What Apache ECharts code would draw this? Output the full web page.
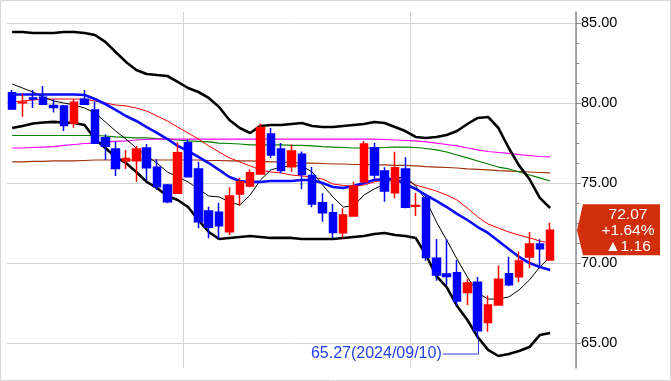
<!DOCTYPE html>
<html><head><meta charset="utf-8">
<script src="https://cdn.jsdelivr.net/npm/echarts@6/dist/echarts.min.js"></script>
<style>html,body{margin:0;padding:0;background:#fff}#c{width:671px;height:381px}</style>
</head><body><div id="c"></div>
<script>
const categories = ['2024/07/09','2024/07/10','2024/07/11','2024/07/12','2024/07/15','2024/07/16','2024/07/17','2024/07/18','2024/07/19','2024/07/22','2024/07/23','2024/07/24','2024/07/25','2024/07/26','2024/07/29','2024/07/30','2024/07/31',
'2024/08/01','2024/08/02','2024/08/05','2024/08/06','2024/08/07','2024/08/08','2024/08/09','2024/08/12','2024/08/13','2024/08/14','2024/08/15','2024/08/16','2024/08/19','2024/08/20','2024/08/21','2024/08/22','2024/08/23','2024/08/26','2024/08/27','2024/08/28','2024/08/29','2024/08/30',
'2024/09/02','2024/09/03','2024/09/04','2024/09/05','2024/09/06','2024/09/09','2024/09/10','2024/09/11','2024/09/12','2024/09/13','2024/09/16','2024/09/17','2024/09/18','2024/09/19'];
const opens  = [80.67,80.04,80.34,80.38,79.87,79.84,78.75,80.25,79.59,77.85,77.15,76.40,76.42,77.21,76.00,74.90,74.38,77.54,75.90,73.27,73.19,71.98,74.34,74.84,75.59,78.09,77.15,76.04,76.82,75.49,73.79,73.17,71.92,72.96,75.10,77.23,75.77,74.42,75.90,73.57,74.09,70.32,69.34,69.42,68.18,68.82,66.30,67.40,69.35,69.17,70.40,71.21,70.21];
const closes = [79.65,80.07,80.27,79.94,79.74,78.62,80.07,79.94,77.50,77.32,75.93,76.55,77.15,75.98,74.79,73.85,76.92,75.42,72.60,72.25,72.35,74.21,75.10,75.67,78.49,76.78,75.80,77.02,75.55,73.71,73.17,71.93,73.02,74.84,77.46,75.52,74.52,75.98,73.50,73.62,70.37,69.27,69.18,67.65,68.78,65.79,67.40,69.00,68.67,70.15,71.21,70.91,72.07];
const lows   = [79.58,79.17,79.71,79.93,79.43,78.27,78.48,79.93,77.49,76.46,75.46,75.90,75.10,75.21,74.59,73.75,74.37,75.40,72.19,71.57,71.57,71.77,73.59,74.75,75.55,76.59,75.63,75.73,74.63,73.50,72.60,71.57,71.63,72.93,75.00,75.21,73.85,74.07,73.44,72.96,70.17,68.92,68.65,67.37,67.40,65.27,65.73,67.38,68.57,68.84,69.71,69.69,70.18];
const highs  = [80.84,80.59,80.84,81.09,80.25,79.90,80.25,80.84,80.12,78.05,77.65,77.09,77.34,77.46,76.50,74.96,77.57,77.75,76.35,73.54,73.79,74.75,75.35,75.88,78.74,78.46,77.52,77.43,76.99,76.02,74.38,73.71,73.44,75.10,77.65,77.54,76.00,76.98,76.63,74.40,74.27,71.52,71.52,70.21,69.02,69.15,67.99,69.87,70.42,70.74,71.96,71.50,72.54];
const bandUpper = [84.46,84.46,84.40,84.40,84.40,84.46,84.46,84.40,84.27,83.84,83.21,82.59,82.09,81.84,81.77,81.71,81.34,80.96,80.71,80.34,79.77,78.96,78.46,78.15,78.59,78.65,78.65,78.71,78.77,78.59,78.52,78.52,78.59,78.65,78.71,78.84,78.77,78.52,78.27,77.90,77.84,77.90,78.02,78.27,78.71,79.09,79.15,78.46,77.21,76.11,75.27,74.09,73.46];
const bandLower = [78.46,78.59,78.74,78.80,78.84,78.80,78.77,78.65,77.77,77.21,76.65,76.27,75.71,75.09,74.71,74.21,73.96,73.52,72.71,71.96,71.52,71.59,71.65,71.71,71.65,71.59,71.59,71.59,71.52,71.52,71.52,71.52,71.59,71.65,71.71,71.84,71.90,71.77,71.71,71.59,70.52,69.21,68.52,67.34,66.46,65.40,64.59,64.21,64.34,64.52,64.77,65.52,65.65];
const maBlack = [81.21,80.96,80.71,80.40,80.15,80.02,79.90,79.71,79.40,78.84,78.27,77.77,77.21,76.71,76.27,75.71,75.40,75.09,74.65,74.21,74.15,73.84,73.65,74.27,75.21,75.84,76.02,76.09,76.09,75.71,74.90,74.15,73.52,73.59,74.27,74.65,74.96,75.34,75.40,74.84,73.96,72.59,71.46,70.27,69.15,68.15,67.77,67.77,67.90,68.34,68.96,69.77,70.40];
const maBlue = [80.55,80.55,80.55,80.55,80.55,80.55,80.55,80.52,80.27,79.96,79.59,79.21,78.90,78.52,78.15,77.77,77.34,77.02,76.65,76.27,75.84,75.40,75.15,75.09,75.09,75.15,75.15,75.15,75.21,75.21,75.02,74.77,74.71,74.84,75.02,75.21,75.27,75.27,74.96,74.65,74.27,73.90,73.52,73.09,72.71,72.27,71.90,71.40,70.90,70.40,70.02,69.77,69.59];
const maRed = [80.09,80.15,80.21,80.27,80.27,80.27,80.27,80.27,80.15,80.02,79.90,79.84,79.71,79.52,79.21,78.90,78.52,78.15,77.77,77.34,76.96,76.59,76.34,76.09,75.84,75.71,75.65,75.52,75.46,75.40,75.27,74.96,74.87,74.81,74.90,75.09,75.21,75.34,75.21,74.90,74.71,74.52,74.27,73.96,73.46,72.90,72.46,72.21,71.96,71.77,71.59,71.40,71.27];
const maMagenta = [77.21,77.21,77.24,77.27,77.30,77.37,77.43,77.49,77.52,77.59,77.62,77.65,77.71,77.74,77.77,77.77,77.77,77.77,77.77,77.77,77.77,77.77,77.77,77.77,77.77,77.77,77.77,77.77,77.77,77.77,77.77,77.77,77.77,77.77,77.77,77.77,77.74,77.71,77.68,77.65,77.59,77.52,77.43,77.34,77.21,77.09,76.99,76.93,76.87,76.80,76.74,76.68,76.65];
const maGreen = [77.99,77.99,77.99,77.99,77.99,77.99,77.99,77.99,77.99,77.96,77.90,77.87,77.84,77.84,77.80,77.77,77.71,77.65,77.62,77.59,77.52,77.49,77.46,77.40,77.40,77.40,77.40,77.37,77.37,77.34,77.30,77.27,77.24,77.21,77.21,77.21,77.24,77.27,77.27,77.24,77.18,77.09,76.96,76.77,76.59,76.40,76.21,76.02,75.90,75.71,75.52,75.34,75.15];
const maBrown = [76.34,76.34,76.37,76.37,76.40,76.40,76.40,76.43,76.46,76.46,76.46,76.46,76.46,76.46,76.46,76.46,76.46,76.46,76.46,76.43,76.43,76.40,76.40,76.40,76.37,76.34,76.34,76.30,76.27,76.27,76.24,76.21,76.21,76.18,76.18,76.15,76.15,76.12,76.12,76.09,76.05,76.02,75.99,75.96,75.90,75.87,75.84,75.80,75.77,75.74,75.71,75.68,75.65];
const majorTicks = [65, 70, 75, 80, 85];
const minorTicks = [66.25, 67.5, 68.75, 71.25, 72.5, 73.75, 76.25, 77.5, 78.75, 81.25, 82.5, 83.75];
const emptySlots = ['', ''];

const chart = echarts.init(document.getElementById('c'), null, {renderer: 'canvas'});
const xCats = categories.concat(emptySlots);
const candleData = categories.map((d, i) => [opens[i], closes[i], lows[i], highs[i]]);
const FONT = 'Liberation Sans';
const GRID = {left: 7, right: 95, top: 12, bottom: 13};
function lineSeries(data, color, width, z) {
  return {type: 'line', data: data, symbol: 'none', smooth: false, z: z || 2, silent: true,
    lineStyle: {color: color, width: width}, emphasis: {disabled: true}};
}
const month = s => s ? s.slice(0, 7) : '';
chart.setOption({
  animation: false,
  backgroundColor: '#ffffff',
  grid: Object.assign({outerBoundsMode: 'none', containLabel: false}, GRID),
  xAxis: {type: 'category', data: xCats, boundaryGap: true,
    axisLine: {show: false}, axisTick: {show: false}, axisLabel: {show: false},
    splitLine: {show: true, lineStyle: {color: '#d4d4d4', width: 1},
      interval: (idx) => idx > 0 && idx < categories.length && month(categories[idx]) !== month(categories[idx - 1])}},
  yAxis: {type: 'value', position: 'right', min: 63.46, max: 85.71, scale: true,
    axisLine: {show: true, lineStyle: {color: '#8c8c8c', width: 1.5}},
    axisTick: {show: true, customValues: majorTicks, length: 5, lineStyle: {color: '#8c8c8c', width: 1}},
    axisLabel: {show: true, customValues: majorTicks, margin: 5, color: '#000', fontFamily: FONT, fontSize: 14.5,
      formatter: v => Number(v).toFixed(2)},
    splitLine: {show: true, lineStyle: {color: '#d4d4d4', width: 1}}},
  series: [
    lineSeries(maBrown, '#a0300a', 1.2),
    lineSeries(maGreen, '#008000', 1.2),
    lineSeries(maMagenta, '#ff00ff', 1.2),
    lineSeries(maRed, '#ff0000', 1),
    lineSeries(maBlack, '#000000', 1),
    lineSeries(maBlue, '#0a0aff', 2.6),
    lineSeries(bandUpper, '#000000', 2.6),
    lineSeries(bandLower, '#000000', 2.6),
    {type: 'candlestick', data: candleData, barWidth: 8, z: 5, silent: true,
      itemStyle: {color: '#ff0000', color0: '#0000ff', borderColor: '#ff0000', borderColor0: '#0000ff', borderWidth: 1.5}}
  ]
});

// annotations
const last = closes.length - 1;
const lastClose = closes[last];
const change = lastClose - closes[last - 1];
const pct = change / closes[last - 1] * 100;
const ax = 671 - GRID.right;
const yc = chart.convertToPixel({yAxisIndex: 0}, lastClose);
let lowIdx = 0;
lows.forEach((v, i) => { if (v < lows[lowIdx]) lowIdx = i; });
const lowVal = lows[lowIdx];
const p = chart.convertToPixel({seriesIndex: 8}, [lowIdx, lowVal]);
const blueTxt = '#2341e6';
const minorTickGraphics = minorTicks.map(v => {
  const y = Math.round(chart.convertToPixel({yAxisIndex: 0}, v)) + 0.5;
  return {type: 'line', silent: true, z: 50, shape: {x1: ax, y1: y, x2: ax + 3.5, y2: y}, style: {stroke: '#8c8c8c', lineWidth: 1}};
});
chart.setOption({graphic: minorTickGraphics.concat([
  {type: 'rect', silent: true, shape: {x: 0.5, y: 0.5, width: 670, height: 380}, style: {fill: 'none', stroke: '#d6d6d6', lineWidth: 1}, z: 100},
  {type: 'polygon', silent: true, shape: {points: [[ax + 1, yc], [ax + 7, yc - 26], [ax + 84, yc - 26], [ax + 84, yc + 25], [ax + 7, yc + 25]]},
    style: {fill: '#d12e0c'}, z: 100},
  {type: 'text', silent: true, x: ax + 52, y: yc - 16, z: 101, style: {text: lastClose.toFixed(2), fill: '#fff', font: '15.5px "' + FONT + '"', align: 'center', verticalAlign: 'middle'}},
  {type: 'text', silent: true, x: ax + 52, y: yc, z: 101, style: {text: (change >= 0 ? '+' : '') + pct.toFixed(2) + '%', fill: '#fff', font: '15.5px "' + FONT + '"', align: 'center', verticalAlign: 'middle'}},
  {type: 'text', silent: true, x: ax + 52, y: yc + 16, z: 101, style: {text: (change >= 0 ? '\u25B2' : '\u25BC') + Math.abs(change).toFixed(2), fill: '#fff', font: '15.5px "' + FONT + '"', align: 'center', verticalAlign: 'middle'}},
  {type: 'polyline', silent: true, z: 100, shape: {points: [[Math.round(p[0]) + 0.5, p[1] + 1], [Math.round(p[0]) + 0.5, p[1] + 15], [p[0] - 35, p[1] + 15]]},
    style: {stroke: blueTxt, lineWidth: 1, fill: 'none'}},
  {type: 'text', silent: true, z: 100, x: p[0] - 36, y: p[1] + 15, style: {text: lowVal.toFixed(2) + '(' + categories[lowIdx] + ')', fill: blueTxt, font: '16px "' + FONT + '"', align: 'right', verticalAlign: 'middle'}}
])});
</script>
</body></html>
